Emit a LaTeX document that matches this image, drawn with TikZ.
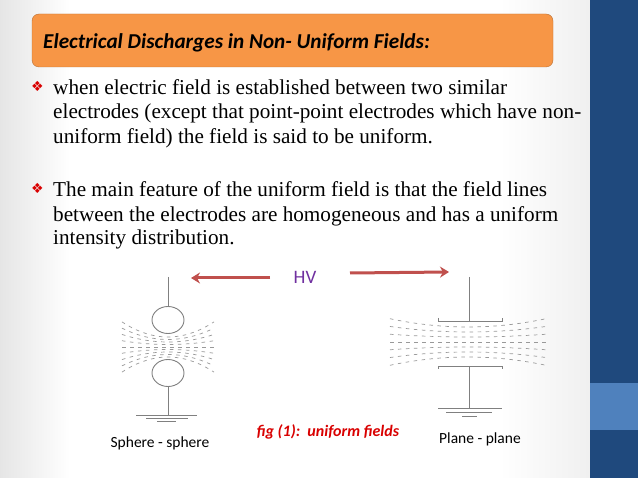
\documentclass[tikz,border=0pt]{standalone}
\usepackage{fontspec}
\setmainfont{Liberation Serif}
\newfontfamily\carl{Carlito}
\newfontfamily\dvs{DejaVu Sans}
\usetikzlibrary{arrows.meta,shapes.geometric}
\definecolor{navy}{HTML}{1F497D}
\definecolor{lblue}{HTML}{4F81BD}
\definecolor{orng}{HTML}{F79646}
\definecolor{arrred}{HTML}{C0504D}
\definecolor{hvpurple}{HTML}{7030A0}
\definecolor{fig}{HTML}{808080}
\tikzset{
 bul/.style={anchor=base west,inner sep=0,font=\dvs\fontsize{14}{18}\selectfont,text=red!85!black},
 body/.style={anchor=base west,inner sep=0,font=\fontsize{21.2}{25}\selectfont},
 wire/.style={draw=fig,line width=0.9pt},
 fld/.style={draw=fig!80,line width=0.7pt,dash pattern=on 3.5pt off 4.5pt},
 hv/.style={draw=arrred,line width=3pt,-{Stealth[length=9pt,width=11pt]}},
 lab/.style={anchor=base,inner sep=0,font=\carl\fontsize{15.5}{18}\selectfont},
 elec/.style={draw=fig,line width=0.9pt,ellipse,minimum width=32pt,minimum height=27pt,inner sep=0}
}
\begin{document}
\begin{tikzpicture}[x=1pt,y=-1pt]
\useasboundingbox (0,0) rectangle (638,478);
\fill[white] (0,0) rectangle (590,478);
\shade[left color=black!10,right color=white] (0,0) rectangle (70,478);
\shade[left color=white,right color=black!6] (500,0) rectangle (590,478);
\fill[navy] (590,0) rectangle (638,478);
\fill[lblue] (590,383) rectangle (638,430);
\draw[draw=orng!75!black,fill=orng,rounded corners=7pt] (32,14) rectangle (553,67);
\node[anchor=base west,inner sep=0,font=\carl\bfseries\itshape\fontsize{21.2}{24}\selectfont] (title) at (43,49) {Electrical Discharges in Non- Uniform Fields:};
\node[bul] (b1) at (31,92) {❖};
\node[body] (t1) at (53,95) {when electric field is established between two similar};
\node[body] (t2) at (53,119) {electrodes (except that point-point electrodes which have non-};
\node[body] (t3) at (53,144) {uniform field) the field is said to be uniform.};
\node[bul] (b2) at (31,194) {❖};
\node[body] (t4) at (53,197) {The main feature of the uniform field is that the field lines};
\node[body] (t5) at (53,222) {between the electrodes are homogeneous and has a uniform};
\node[body] (t6) at (53,245) {intensity distribution.};
\node[anchor=base,inner sep=0,font=\carl\fontsize{19}{22}\selectfont,text=hvpurple] (hv) at (305,284) {HV};
\coordinate (la1) at (270,278); \coordinate (la2) at (191,278);
\coordinate (ra1) at (350,273); \coordinate (ra2) at (449,272);
\draw[hv] (la1) -- (la2);
\draw[hv] (ra1) -- (ra2);
% sphere-sphere
\node[elec] (s1) at (168,320) {};
\node[elec] (s2) at (168,373) {};
\coordinate (st) at (168,277); \coordinate (sg) at (168,415);
\draw[wire] (st) -- (s1.north);
\draw[wire] (s2.south) -- (sg);
\draw[wire] (136,415) -- (197,415);
\draw[wire,line width=0.6pt] (146,418) -- (188,418);
\draw[wire,line width=0.6pt] (157,421) -- (176,421);
\foreach \c in {-10,-7.5,-5,-2.5,2.5,5,7.5,10}
  \draw[fld] plot[domain=-46:46,samples=20] ({168+\x},{347+\c*(1+\x*\x/1400)});
\draw[fld] (122,347) -- (214,347);
% plane-plane
\coordinate (pt) at (469,277); \coordinate (pg) at (469,408);
\draw[wire] (pt) -- (469,321);
\draw[wire] (438,318) -- (438,321) -- (502,321) -- (502,318);
\draw[wire] (438,369) -- (438,366) -- (502,366) -- (502,369);
\draw[wire] (469,366) -- (pg);
\draw[wire] (438,408) -- (502,408);
\draw[wire,line width=0.6pt] (446,412) -- (492,412);
\draw[wire,line width=0.6pt] (462,416) -- (477,416);
\foreach \c in {-15,-10,-5,5,10,15}
  \draw[fld] plot[domain=-78:78,samples=20] ({468+\x},{342+\c*(1+\x*\x/11000)});
\draw[fld] (390,342) -- (546,342);
\node[lab] (l1) at (160,448) {Sphere - sphere};
\node[lab] (l2) at (480,444) {Plane - plane};
\node[lab,font=\carl\bfseries\itshape\fontsize{16}{18}\selectfont,text=red!85!black] (l3) at (328,437) {fig (1):\ \ uniform fields};
\end{tikzpicture}
\end{document}
